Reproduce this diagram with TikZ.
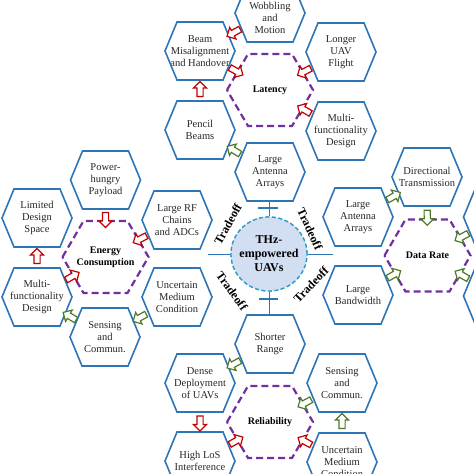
\documentclass[tikz,border=0pt]{standalone}
\usepackage{fontspec}
\setmainfont{Liberation Serif}
\usetikzlibrary{shapes.geometric,shapes.arrows,calc}
\definecolor{hexblue}{HTML}{2E75B6}
\definecolor{dpurple}{HTML}{7030A0}
\definecolor{ared}{HTML}{C00000}
\definecolor{agreen}{HTML}{4E7A27}
\definecolor{efill}{HTML}{D2DEF1}
\definecolor{eline}{HTML}{2E9BC8}
\definecolor{txt}{HTML}{262626}
\newcommand\hexnode[3]{%
  \node[hextext] (#1) at (#2) {#3};
  \draw[hexline] ($(#1.center)+(-35,0)$) -- ++(12,-29) -- ++(46,0) -- ++(12,29) -- ++(-12,29) -- ++(-46,0) -- cycle;}
\newcommand\bighex[3]{%
  \node[bigtext] (#1) at (#2) {#3};
  \draw[bigline] ($(#1.center)+(-43,0)$) -- ++(21,-36) -- ++(44,0) -- ++(21,36) -- ++(-21,36) -- ++(-44,0) -- cycle;}
\newcommand\blockarrow[4]{%
  \path let \p1=($(#3)-(#2)$) in node[blockarr=#4, rotate={atan2(\y1,\x1)}] (#1) at ($(#2)!0.5!(#3)$) {};}
\begin{document}
\begin{tikzpicture}[x=1pt,y=-1pt,
  hextext/.style={align=center, font=\fontsize{10.5}{12}\selectfont, text=txt, inner sep=0pt},
  hexline/.style={draw=hexblue, line width=1.6pt, line join=miter},
  bigtext/.style={align=center, font=\fontsize{10}{12}\selectfont\bfseries, text=black, inner sep=0pt},
  bigline/.style={draw=dpurple, line width=2.2pt, dash pattern=on 7pt off 4pt},
  blockarr/.style={shape=single arrow, draw=#1, fill=white, line width=1.2pt, minimum height=15pt, inner sep=2.5pt, single arrow head extend=3.5pt, single arrow head indent=0pt},
  tradeoff/.style={font=\fontsize{12}{12}\selectfont\bfseries, inner sep=0pt},
  conn/.style={draw=hexblue, line width=1pt},
  tbar/.style={draw=hexblue, line width=2.6pt},
  thz/.style={ellipse, draw=eline, line width=1.3pt, dash pattern=on 4pt off 2.5pt, fill=efill, minimum width=76pt, minimum height=74pt, inner sep=0pt},
  thztext/.style={align=center, font=\fontsize{12}{14}\selectfont\bfseries, inner sep=0pt}]
\useasboundingbox (0,0) rectangle (474,474);
\clip (0,0) rectangle (474,474);
% connectors around the centre
\node[thz] (thz) at (269,254) {};
\coordinate (lw) at (208,254);
\coordinate (le) at (333,254);
\coordinate (tn) at (269,201);
\coordinate (ts) at (269,315);
\coordinate (tb1) at (258,208);
\coordinate (tb2) at (278,208);
\coordinate (bb1) at (259,299);
\coordinate (bb2) at (278,299);
\draw[conn] (thz.west) -- (lw);
\draw[conn] (thz.east) -- (le);
\draw[conn] (thz.north) -- (tn);
\draw[conn] (thz.south) -- (ts);
\draw[tbar] (tb1) -- (tb2);
\draw[tbar] (bb1) -- (bb2);
\node[thz] (thzb) at (269,254) {};
\node[thztext] (thzt) at (thzb.center) {THz-\\empowered\\UAVs};
\node[tradeoff, rotate=61] (to1) at (228,224) {Tradeoff};
\node[tradeoff, rotate=-65] (to2) at (310,229) {Tradeoff};
\node[tradeoff, rotate=-54] (to3) at (232,291) {Tradeoff};
\node[tradeoff, rotate=46] (to4) at (311,285) {Tradeoff};
% Latency cluster
\bighex{lat}{270,90}{Latency}
\hexnode{wob}{270,13}{}
\node[hextext] (wobt) at (270,18) {Wobbling\\and\\Motion};
\hexnode{beam}{200,51}{Beam\\Misalignment\\and Handover}
\hexnode{long}{341,52}{Longer\\UAV\\Flight}
\hexnode{multa}{341,131}{Multi-\\functionality\\Design}
\hexnode{pen}{200,130}{Pencil\\Beams}
\hexnode{laa}{270,172}{Large\\Antenna\\Arrays}
% Energy cluster
\bighex{ene}{105.5,257}{Energy\\Consumption}
\hexnode{pow}{105.5,180}{Power-\\hungry\\Payload}
\hexnode{lim}{37,218}{Limited\\Design\\Space}
\hexnode{rf}{177,220}{Large RF\\Chains\\and ADCs}
\hexnode{multb}{37,297}{Multi-\\functionality\\Design}
\hexnode{unca}{177,297}{Uncertain\\Medium\\Condition}
\hexnode{sena}{105,337}{Sensing\\and\\Commun.}
% Data rate cluster
\bighex{dr}{427.5,255.5}{Data Rate}
\hexnode{dir}{427,177}{Directional\\Transmission}
\hexnode{laab}{358,217}{Large\\Antenna\\Arrays}
\hexnode{bw}{358,295}{Large\\Bandwidth}
\hexnode{ra}{498.5,217}{}
\hexnode{rb}{498.5,296}{}
% Reliability cluster
\bighex{rel}{270,422}{Reliability}
\hexnode{sho}{270,344}{Shorter\\Range}
\hexnode{den}{200,383}{Dense\\Deployment\\of UAVs}
\hexnode{senb}{342,383}{Sensing\\and\\Commun.}
\hexnode{los}{200,461}{High LoS\\Interference}
\hexnode{uncb}{342,462}{Uncertain\\Medium\\Condition}
% block arrows
\blockarrow{a1}{wob}{beam}{ared}
\blockarrow{a2}{beam}{lat}{ared}
\blockarrow{a3}{pen}{beam}{ared}
\blockarrow{a4}{long}{lat}{ared}
\blockarrow{a5}{multa}{lat}{ared}
\blockarrow{a6}{laa}{pen}{agreen}
\blockarrow{a7}{pow}{ene}{ared}
\blockarrow{a8}{rf}{ene}{ared}
\blockarrow{a9}{multb}{lim}{ared}
\blockarrow{a10}{multb}{ene}{ared}
\blockarrow{a11}{sena}{multb}{agreen}
\blockarrow{a12}{unca}{sena}{agreen}
\blockarrow{a13}{laab}{dir}{agreen}
\blockarrow{a14}{dir}{dr}{agreen}
\blockarrow{a15}{bw}{dr}{agreen}
\blockarrow{a16}{ra}{dr}{agreen}
\blockarrow{a17}{rb}{dr}{agreen}
\blockarrow{a18}{sho}{den}{agreen}
\blockarrow{a19}{den}{los}{ared}
\blockarrow{a20}{los}{rel}{ared}
\blockarrow{a21}{senb}{rel}{agreen}
\blockarrow{a22}{uncb}{senb}{agreen}
\blockarrow{a23}{uncb}{rel}{ared}
\end{tikzpicture}
\end{document}
